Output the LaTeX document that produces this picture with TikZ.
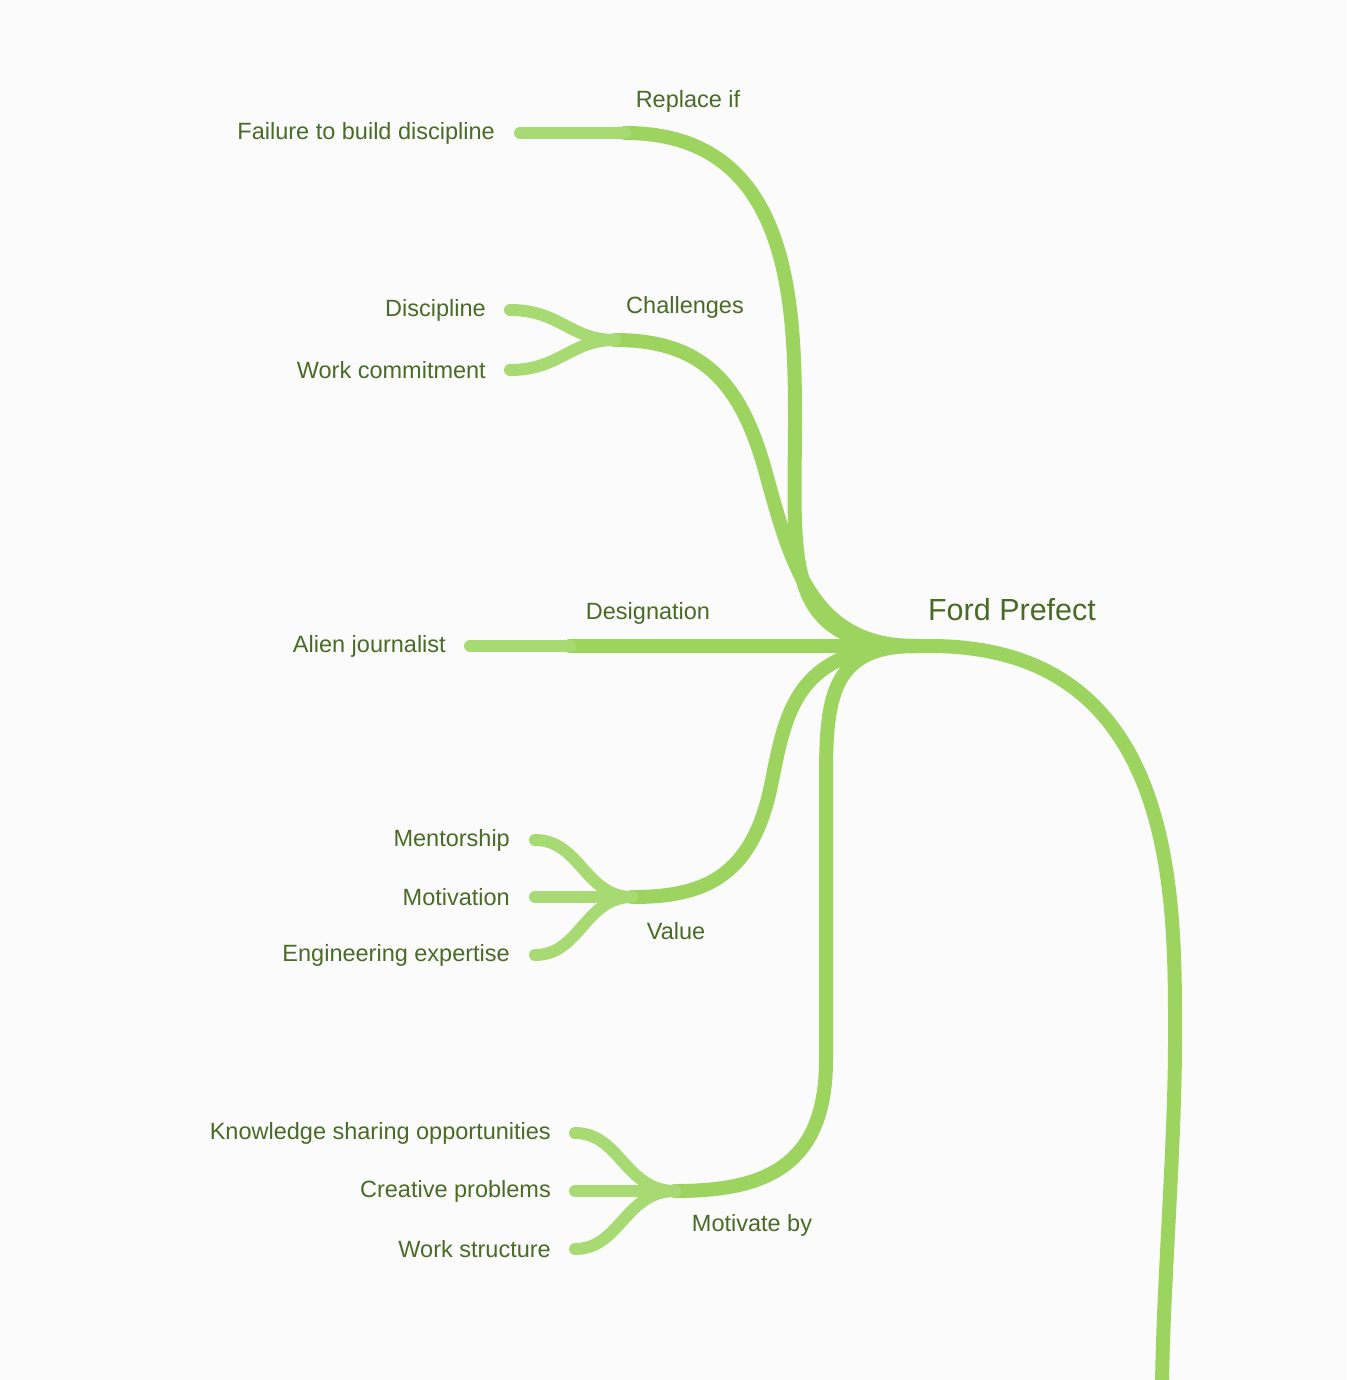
\documentclass[tikz,border=0pt]{standalone}
\usepackage{fontspec}
\setmainfont{Liberation Sans}
\definecolor{bg}{HTML}{FBFBFB}
\definecolor{gr}{HTML}{9DD45F}
\definecolor{grl}{HTML}{A8DA74}
\definecolor{tx}{HTML}{4A6B26}
\begin{document}
\begin{tikzpicture}[x=1pt,y=-1pt,
  br/.style={draw=gr,line width=14pt,line cap=round},
  sb/.style={draw=grl,line width=12pt,line cap=round},
  lab/.style={text=tx,font=\fontsize{23.5}{28}\selectfont,inner sep=0pt},
  leaf/.style={lab,anchor=east}]
\fill[bg] (0,0) rectangle (1346,1380);
\useasboundingbox (0,0) rectangle (1346,1380);
\coordinate (c) at (915,646);
\coordinate (r) at (625,133);
\coordinate (ch) at (615,340);
\coordinate (d) at (570,646);
\coordinate (v) at (632,897);
\coordinate (m) at (675,1191);
% main trunk
\draw[br] (c) -- (930,646) .. controls (1180,646) and (1175,900) .. (1175,1040) .. controls (1175,1150) and (1162,1300) .. (1162,1395);
% replace if
\draw[br] (c) .. controls (780,646) and (795,560) .. (795,420) .. controls (795,300) and (790,133) .. (r);
\draw[sb] (r) -- (520,133);
% challenges
\draw[br] (c) .. controls (810,646) and (790,560) .. (765,470) .. controls (740,380) and (700,340) .. (ch);
\draw[sb] (ch) .. controls (570,340) and (560,310) .. (510,310);
\draw[sb] (ch) .. controls (570,340) and (560,370) .. (510,370);
% designation
\draw[br] (c) -- (d);
\draw[sb] (d) -- (470,646);
% value
\draw[br] (c) .. controls (790,646) and (785,720) .. (770,790) .. controls (750,880) and (700,897) .. (v);
\draw[sb] (v) .. controls (585,897) and (580,840) .. (535,840);
\draw[sb] (v) -- (535,897);
\draw[sb] (v) .. controls (585,897) and (580,955) .. (535,955);
% motivate
\draw[br] (c) .. controls (830,646) and (826,700) .. (826,780) -- (826,1060) .. controls (826,1170) and (760,1191) .. (m);
\draw[sb] (m) .. controls (625,1191) and (620,1133) .. (575,1133);
\draw[sb] (m) -- (575,1191);
\draw[sb] (m) .. controls (625,1191) and (620,1249) .. (575,1249);
% labels
\node[lab,font=\fontsize{30.5}{36}\selectfont] (fp) at (1012,610) {Ford Prefect};
\node[lab] (lr) at (688,101) {Replace if};
\node[lab] (lc) at (685,307) {Challenges};
\node[lab] (ld) at (648,613) {Designation};
\node[lab] (lv) at (676,931) {Value};
\node[lab] (lm) at (752,1225) {Motivate by};
\node[leaf] (a1) at (495,133) {Failure to build discipline};
\node[leaf] (a2) at (486,310) {Discipline};
\node[leaf] (a3) at (486,370) {Work commitment};
\node[leaf] (a4) at (446,646) {Alien journalist};
\node[leaf] (a5) at (510,840) {Mentorship};
\node[leaf] (a6) at (510,897) {Motivation};
\node[leaf] (a7) at (510,955) {Engineering expertise};
\node[leaf] (a8) at (551,1133) {Knowledge sharing opportunities};
\node[leaf] (a9) at (551,1191) {Creative problems};
\node[leaf] (a10) at (551,1249) {Work structure};
\end{tikzpicture}
\end{document}
